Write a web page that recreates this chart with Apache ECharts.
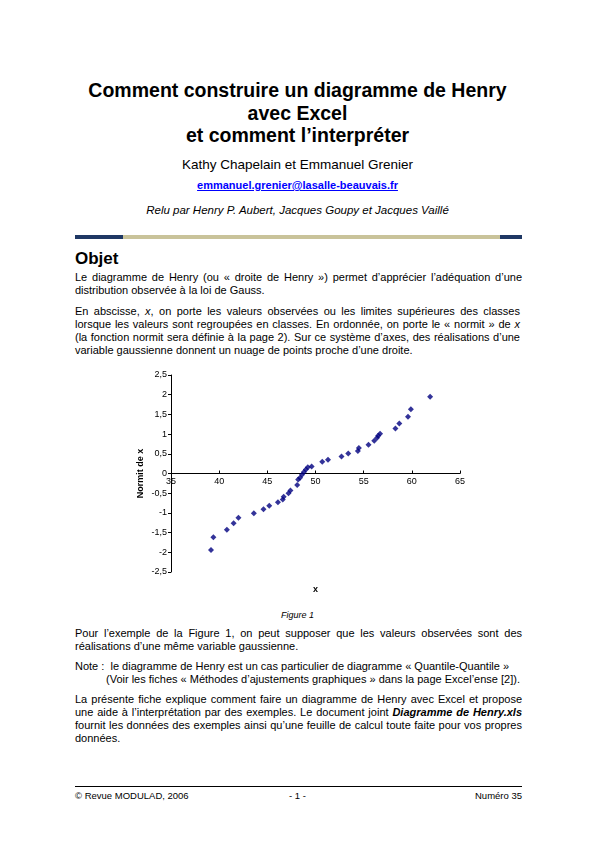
<!DOCTYPE html>
<html><head><meta charset="utf-8">
<script src="https://cdn.jsdelivr.net/npm/echarts@6/dist/echarts.min.js"></script>
<style>
body{margin:0;width:595px;height:842px;position:relative;background:#fff;font-family:"Liberation Sans",Arial,sans-serif;color:#000}
.a{position:absolute}
.t{left:60px;width:475px;text-align:center;font-weight:bold;font-size:19.5px;line-height:22.5px}
.p{left:75px;width:447px;font-size:11px;line-height:13px;text-align:justify}
</style></head><body>
<div class="a t" style="top:79px">Comment construire un diagramme de Henry<br>avec Excel<br>et comment l’interpréter</div>
<div class="a" style="left:0;width:595px;top:157px;text-align:center;font-size:13.5px">Kathy Chapelain et Emmanuel Grenier</div>
<div class="a" style="left:0;width:595px;top:179px;text-align:center;font-size:11px;font-weight:bold;color:#00f;text-decoration:underline">emmanuel.grenier@lasalle-beauvais.fr</div>
<div class="a" style="left:0;width:595px;top:204px;text-align:center;font-size:11.5px;font-style:italic">Relu par Henry P. Aubert, Jacques Goupy et Jacques Vaillé</div>
<div class="a" style="left:75px;top:235px;width:447px;height:4px;background:#c9c39a"></div>
<div class="a" style="left:75px;top:235px;width:48px;height:4px;background:#1f3864"></div>
<div class="a" style="left:500px;top:235px;width:22px;height:4px;background:#1f3864"></div>
<div class="a" style="left:75px;top:249px;font-size:17px;font-weight:bold">Objet</div>
<div class="a p" style="top:271px">Le diagramme de Henry (ou « droite de Henry ») permet d’apprécier l’adéquation d’une distribution observée à la loi de Gauss.</div>
<div class="a p" style="top:305px;width:445px">En abscisse, <i>x</i>, on porte les valeurs observées ou les limites supérieures des classes lorsque les valeurs sont regroupées en classes. En ordonnée, on porte le « normit » de <i>x</i> (la fonction normit sera définie à la page 2). Sur ce système d’axes, des réalisations d’une variable gaussienne donnent un nuage de points proche d’une droite.</div>
<div id="chart" class="a" style="left:0;top:360px;width:595px;height:240px"></div>
<div class="a" style="left:0;width:595px;top:610px;text-align:center;font-size:9px;font-style:italic">Figure 1</div>
<div class="a p" style="top:627px">Pour l’exemple de la Figure 1, on peut supposer que les valeurs observées sont des réalisations d’une même variable gaussienne.</div>
<div class="a p" style="top:660px;left:75px;width:447px">Note :&nbsp; le diagramme de Henry est un cas particulier de diagramme « Quantile-Quantile »<br><span style="padding-left:31px">(Voir les fiches « Méthodes d’ajustements graphiques » dans la page Excel’ense [2]).</span></div>
<div class="a p" style="top:693px">La présente fiche explique comment faire un diagramme de Henry avec Excel et propose une aide à l’interprétation par des exemples. Le document joint <b><i>Diagramme de Henry.xls</i></b> fournit les données des exemples ainsi qu’une feuille de calcul toute faite pour vos propres données.</div>
<div class="a" style="left:75px;top:786px;width:447px;height:1px;background:#000"></div>
<div class="a" style="left:75px;top:790px;font-size:9.5px">© Revue MODULAD, 2006</div>
<div class="a" style="left:0;width:595px;top:790px;text-align:center;font-size:9.5px">- 1 -</div>
<div class="a" style="left:440px;width:82px;top:790px;text-align:right;font-size:9.5px">Numéro 35</div>
<script>
// valeurs observées et normits
var xValues = [39.15, 39.4, 40.8, 41.5, 42.0, 43.6, 44.6, 45.2, 46.1, 46.6, 46.7, 47.2, 47.4, 48.1, 48.2, 48.4, 48.6, 48.8, 49.0, 49.2, 49.6, 50.7, 51.3, 52.7, 53.4, 54.4, 54.5, 55.5, 56.1, 56.4, 56.5, 56.7, 58.3, 58.7, 59.6, 59.9, 61.9];
var normits = [-1.94, -1.62, -1.43, -1.26, -1.12, -1.01, -0.91, -0.82, -0.73, -0.66, -0.59, -0.50, -0.43, -0.29, -0.15, -0.11, -0.03, 0.04, 0.10, 0.16, 0.18, 0.30, 0.35, 0.43, 0.51, 0.57, 0.65, 0.73, 0.83, 0.91, 0.96, 1.01, 1.14, 1.27, 1.44, 1.63, 1.95];

var chart = echarts.init(document.getElementById('chart'));
var fr = function (v) { return String(v).replace('.', ','); };
chart.setOption({
    animation: false,
    grid: { left: 171, right: 135, top: 15, bottom: 28, outerBoundsMode: 'none', containLabel: false },
    xAxis: {
        type: 'value', min: 35, max: 65, interval: 5,
        offset: -98.5,
        name: 'x', nameLocation: 'middle', nameGap: 112,
        nameTextStyle: { fontWeight: 'bold', fontSize: 9, color: '#000', fontFamily: 'Liberation Sans' },
        axisLine: { onZero: false, lineStyle: { color: '#000' } },
        axisTick: { inside: true, length: 3, lineStyle: { color: '#000' } },
        axisLabel: { fontSize: 9, color: '#000', fontFamily: 'Liberation Sans', margin: 4 },
        splitLine: { show: false }
    },
    yAxis: {
        type: 'value', min: -2.5, max: 2.5, interval: 0.5,
        name: 'Normit de x', nameLocation: 'middle', nameGap: 26,
        nameTextStyle: { fontWeight: 'bold', fontSize: 9, color: '#000', fontFamily: 'Liberation Sans' },
        axisLine: { onZero: false, lineStyle: { color: '#000' } },
        axisTick: { length: 3, lineStyle: { color: '#000' } },
        axisLabel: { fontSize: 9, color: '#000', fontFamily: 'Liberation Sans', formatter: fr, margin: 4 },
        splitLine: { show: false }
    },
    series: [{
        type: 'scatter', symbol: 'diamond', symbolSize: 6,
        itemStyle: { color: '#000080' },
        data: xValues.map(function (x, i) { return [x, normits[i]]; })
    }]
});
</script>
</body></html>
